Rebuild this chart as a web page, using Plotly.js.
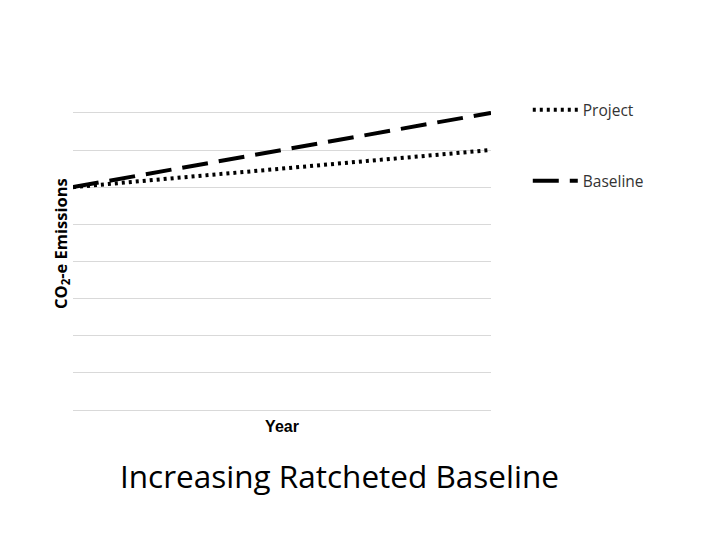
<!DOCTYPE html>
<html>
<head>
<meta charset="utf-8">
<script src="https://cdn.plot.ly/plotly-3.0.1.min.js"></script>
<style>html,body{margin:0;padding:0;background:#fff;}#chart{width:720px;height:540px;}</style>
</head>
<body>
<div id="chart"></div>
<script>
const years = [0, 10];
const project = [6, 7];
const baseline = [6, 8];
const seriesNames = ['Project', 'Baseline'];

const traces = [
  {x: years, y: project, name: seriesNames[0], mode: 'lines', legendgroup: 'a',
   line: {color: '#000', width: 4, dash: '3px,4px'}},
  {x: years, y: baseline, name: seriesNames[1], mode: 'lines', legendgroup: 'b',
   line: {color: '#000', width: 4, dash: '26px,11px'}}
];

const layout = {
  width: 720, height: 540,
  margin: {l: 73, r: 229, t: 111, b: 130},
  paper_bgcolor: '#fff', plot_bgcolor: '#fff',
  showlegend: true,
  legend: {x: 1.088, y: 1.06, xanchor: 'left', yanchor: 'top', traceorder: 'grouped',
    tracegroupgap: 48, itemwidth: 45, font: {family: 'Open Sans, sans-serif', size: 15.5, color: '#333'},
    bgcolor: 'rgba(0,0,0,0)'},
  title: {text: 'Increasing Ratcheted Baseline', x: 0.4715, xref: 'container', xanchor: 'center',
    y: 0.117, yref: 'container', yanchor: 'middle',
    font: {family: 'Open Sans, sans-serif', size: 31.5, color: '#000'}},
  xaxis: {range: [0, 10], showgrid: false, zeroline: false, showticklabels: false, ticks: '',
    showline: false, fixedrange: true,
    title: {text: '<b>Year</b>', standoff: 10, font: {family: 'Liberation Sans, Arial, sans-serif', size: 16, color: '#000'}}},
  yaxis: {range: [0, 8.05], dtick: 1, showgrid: true, gridcolor: '#d9d9d9', gridwidth: 1,
    zeroline: true, zerolinecolor: '#d9d9d9', zerolinewidth: 1,
    showticklabels: false, ticks: '', showline: false},
  annotations: [{text: '<b>CO<sub>2</sub>-e Emissions</b>', textangle: -90, xref: 'paper', yref: 'paper',
    x: (61 - 73) / 418, y: (410 - 244) / 299, xanchor: 'center', yanchor: 'middle', showarrow: false,
    font: {family: 'Open Sans, sans-serif', size: 16.5, color: '#000'}}]
};

Plotly.newPlot('chart', traces, layout, {displayModeBar: false, staticPlot: true});
</script>
</body>
</html>
